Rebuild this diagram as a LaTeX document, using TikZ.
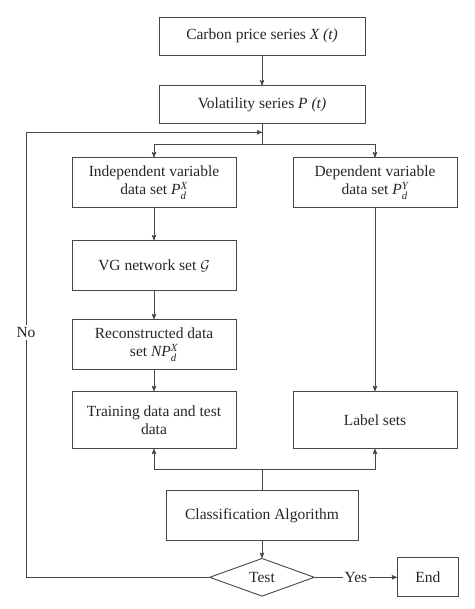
\documentclass[tikz,border=0pt]{standalone}
\usepackage{amsmath}
\usepackage{fontspec}
\setmainfont{Liberation Serif}
\usepackage{tikz}
\usetikzlibrary{shapes}
\usetikzlibrary{arrows}
\usetikzlibrary{positioning}
\definecolor{linegray}{RGB}{70,70,70}
\newcommand{\mathsub}[3]{\textit{#1}$_{\textit{#2}}^{\textit{#3}}$}
\tikzset{
	flownode/.style = {
		align=center,
		inner sep=2pt,
		text centered,
		font=\fontsize{15.5}{18}\selectfont,
		draw=linegray,
		line width=0.9pt,
		text=black!85
	},
	node_top/.style = {
		flownode,
		rectangle,
		minimum width=206pt,
		minimum height=38pt
	},
	node_data/.style = {
		flownode,
		rectangle,
		minimum width=164pt,
		minimum height=50pt
	},
	node_data_high/.style = {
		node_data,
		minimum height=57pt
	},
	node_test/.style = {
		flownode,
		diamond,
		aspect=2.76,
		inner sep=0pt,
		minimum width=105pt,
		minimum height=38pt
	},
	node_label/.style = {
		font=\fontsize{15.5}{18}\selectfont,
		text=black!85,
		fill=white,
		inner sep=2pt
	},
}

\begin{document}
\begin{tikzpicture}[->,>=stealth',line width=0.9pt,draw=linegray]
\useasboundingbox (0,0) rectangle (474pt,-609pt);
\node [node_top] (carbon) at (262pt,-36pt) {Carbon price series \textit{X (t)}};
\node [node_top, below=30pt of carbon] (vol) {Volatility series \textit{P (t)}};
\node [node_data, below=33pt of vol, xshift=-108pt] (indep) {Independent variable\\data set \mathsub{P}{d}{X}};
\node [node_data, below=33pt of vol, xshift=113pt] (dep) {Dependent variable\\data set \mathsub{P}{d}{Y}};
\node [node_data, below=32pt of indep] (vg) {VG network set $\mathcal{G}$};
\node [node_data, below=28pt of vg] (recon) {Reconstructed data\\set \mathsub{NP}{d}{X}};
\node [node_data_high, below=21pt of recon] (train) {Training data and test\\data};
\node [node_data_high] (labels) at (train -| dep) {Label sets};
\node [node_data, below=41pt of train, xshift=108pt, minimum width=192pt] (classif) {Classification Algorithm};
\node [node_test, below=17pt of classif] (test) {Test};
\node [flownode, right=82pt of test, minimum width=61pt, minimum height=39pt] (end) {End};
% junctions
\coordinate [below=8pt of vol] (fb);
\coordinate [below=20pt of vol] (split);
\coordinate [above=21pt of classif] (merge);
\coordinate (fbcorner) at (26pt,-573pt);
% main flow
\draw (carbon) -- (vol);
\draw [-] (vol) -- (split);
\draw (split) -| (indep);
\draw (split) -| (dep);
\draw (indep) -- (vg);
\draw (vg) -- (recon);
\draw (recon) -- (train);
\draw (dep) -- (labels);
\draw [-] (classif) -- (merge);
\draw (merge) -| (train);
\draw (merge) -| (labels);
\draw (classif) -- (test);
\draw (test) -- node [node_label] {Yes} (end);
% feedback loop
\draw (test.west) -- (fbcorner |- test.west) -- node [node_label, pos=0.55] {No} (fbcorner |- fb) -- (fb);
\end{tikzpicture}
\end{document}
